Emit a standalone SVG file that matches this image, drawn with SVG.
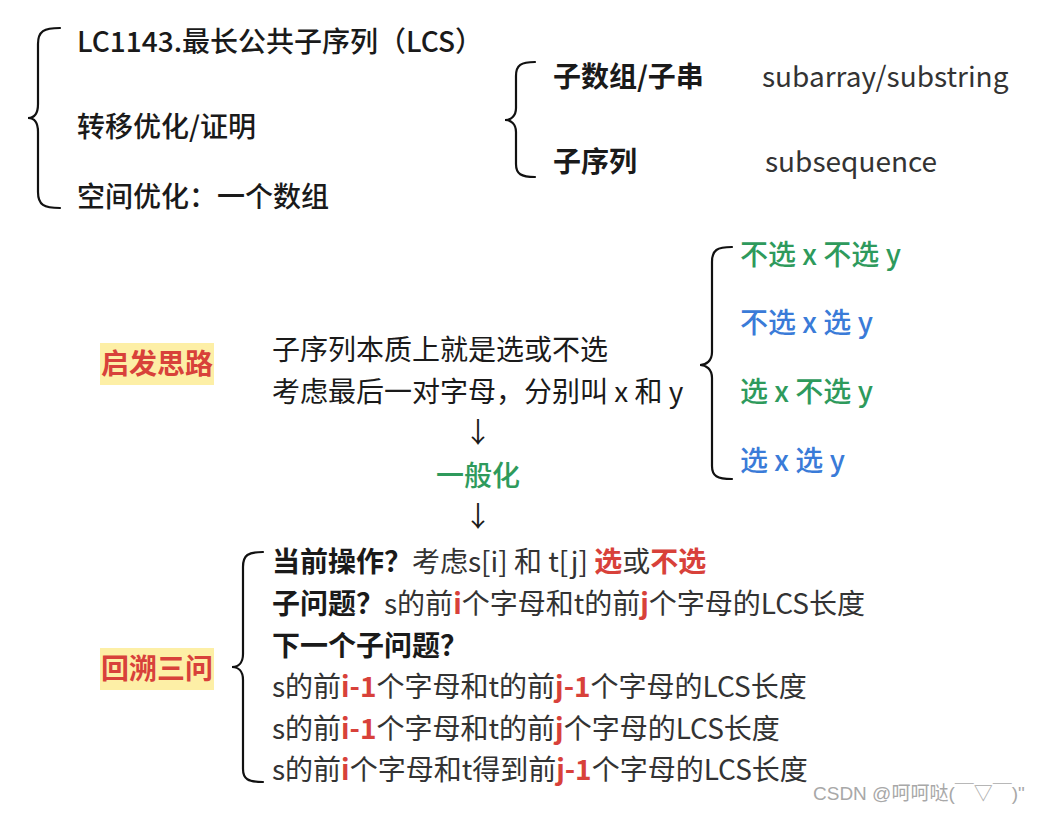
<svg xmlns="http://www.w3.org/2000/svg" width="1040" height="813" viewBox="0 0 1040 813">
<style>
text{font-family:"Noto Sans CJK SC","Noto Sans",sans-serif;font-size:28px;fill:#1a1a1a}
.m{font-weight:500}
.b{font-weight:bold}
.r{fill:#333}
.red{fill:#d8413a;font-weight:bold}
.g{fill:#2e9a5c;font-weight:500}
.bl{fill:#3a7bd8;font-weight:500}
.lab{fill:#d8413a;font-weight:bold}
.hl{fill:#fdefa6}
.br{fill:none;stroke:#111;stroke-width:2.2;stroke-linecap:round}
.wm{font-family:"Liberation Sans","Noto Sans CJK SC",sans-serif;font-size:19px;fill:#a8a8a8}
</style>
<rect width="1040" height="813" fill="#fff"/>
<g id="connectors">
<path class="br" d="M60 28 C44 28 38 31 38 44 L38 104 C38 114 34 118 28 118 C34 118 38 122 38 132 L38 192 C38 205 44 208 60 208"/>
<path class="br" d="M535 62 C521 62 516 65 516 76 L516 108 C516 116 511 120 505 120 C511 120 516 124 516 132 L516 164 C516 174 521 177 535 177"/>
<path class="br" d="M732 247 C717 247 712 250 712 262 L712 352 C712 361 706 365 700 365 C706 365 712 369 712 378 L712 466 C712 476 717 479 732 479"/>
<path class="br" d="M263 552 C248 552 243 555 243 567 L243 654 C243 663 238 667 232 667 C238 667 243 671 243 680 L243 769 C243 779 248 782 263 782"/>
<text x="478" y="443" text-anchor="middle">↓</text>
<text x="478" y="527" text-anchor="middle">↓</text>
</g>
<g id="title">
<text class="m" x="77" y="52">LC1143.最长公共子序列（LCS）</text>
<text class="m" x="77" y="137">转移优化/证明</text>
<text class="m" x="77" y="207">空间优化：一个数组</text>
</g>
<g id="types">
<text class="b" x="553" y="87">子数组/子串</text>
<text class="r" x="762" y="87">subarray/substring</text>
<text class="b" x="553" y="172">子序列</text>
<text class="r" x="765" y="172">subsequence</text>
</g>
<g id="label-inspire">
<rect class="hl" x="100" y="343" width="114" height="42"/>
<text class="lab" x="101" y="374">启发思路</text>
</g>
<g id="idea">
<text x="272" y="360">子序列本质上就是选或不选</text>
<text x="272" y="402">考虑最后一对字母，分别叫 x 和 y</text>
</g>
<g id="general">
<text class="g" x="478" y="486" text-anchor="middle">一般化</text>
</g>
<g id="cases">
<text class="g" x="740" y="265">不选 x 不选 y</text>
<text class="bl" x="740" y="333">不选 x 选 y</text>
<text class="g" x="740" y="402">选 x 不选 y</text>
<text class="bl" x="740" y="471">选 x 选 y</text>
</g>
<g id="label-backtrack">
<rect class="hl" x="100" y="648" width="114" height="42"/>
<text class="lab" x="101" y="679">回溯三问</text>
</g>
<g id="questions">
<text x="272" y="572"><tspan class="b">当前操作？</tspan><tspan class="r">考虑s[i] 和 t[j] </tspan><tspan class="red">选</tspan><tspan class="r">或</tspan><tspan class="red">不选</tspan></text>
<text x="272" y="614"><tspan class="b">子问题？</tspan><tspan class="r">s的前</tspan><tspan class="red">i</tspan><tspan class="r">个字母和t的前</tspan><tspan class="red">j</tspan><tspan class="r">个字母的LCS长度</tspan></text>
<text class="b" x="272" y="656">下一个子问题？</text>
<text class="r" x="272" y="697">s的前<tspan class="red">i-1</tspan>个字母和t的前<tspan class="red">j-1</tspan>个字母的LCS长度</text>
<text class="r" x="272" y="739">s的前<tspan class="red">i-1</tspan>个字母和t的前<tspan class="red">j</tspan>个字母的LCS长度</text>
<text class="r" x="272" y="780">s的前<tspan class="red">i</tspan>个字母和t得到前<tspan class="red">j-1</tspan>个字母的LCS长度</text>
</g>
<text class="wm" x="813" y="800">CSDN @呵呵哒(￣▽￣)"</text>
</svg>
